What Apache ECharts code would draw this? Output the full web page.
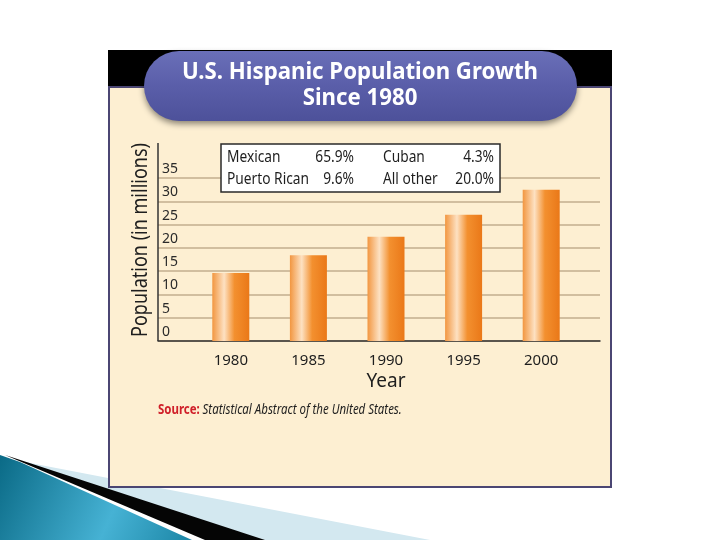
<!DOCTYPE html>
<html>
<head>
<meta charset="utf-8">
<script src="https://cdn.jsdelivr.net/npm/echarts@6/dist/echarts.min.js"></script>
<style>
  html, body { margin: 0; padding: 0; background: #ffffff; }
  #chart { width: 720px; height: 540px; }
</style>
</head>
<body>
<div id="chart"></div>
<script>
// values
const years = ["1980", "1985", "1990", "1995", "2000"];
const population = [14.6, 18.4, 22.4, 27.1, 32.5];
const groups = ["Mexican", "Puerto Rican", "Cuban", "All other"];
const shares = ["65.9%", "9.6%", "4.3%", "20.0%"];

const FONT = "'Noto Sans', 'Open Sans', sans-serif";
const CREAM = "#fdefd2";
const GRID_LINE = "#c2ae8e";
const INK = "#1e1e1e";

const chart = echarts.init(document.getElementById("chart"), null, { renderer: "canvas" });

// the original uses a condensed face; squeeze text horizontally to fit the widths seen
const measureCtx = document.createElement("canvas").getContext("2d");
function textWidth(text, font) {
  measureCtx.font = font;
  return measureCtx.measureText(text).width;
}

const TITLE_FONT = `bold 24px ${FONT}`;
const titleScale = 356 / textWidth("U.S. Hispanic Population Growth", TITLE_FONT);
const LEGEND_FONT = `17px ${FONT}`;
const legendScale = 82 / textWidth("Puerto Rican", LEGEND_FONT);
const YNAME_FONT = `21px ${FONT}`;
const ynameScale = 194 / textWidth("Population (in millions)", YNAME_FONT);
const SRC_A = `bold 14px ${FONT}`;
const SRC_B = `italic 14px ${FONT}`;
const srcScale = 244 / (textWidth("Source: ", SRC_A) + textWidth("Statistical Abstract of the United States.", SRC_B));

const barColor = new echarts.graphic.LinearGradient(0, 0, 1, 0, [
  { offset: 0, color: "#f29640" },
  { offset: 0.32, color: "#fde1c2" },
  { offset: 0.6, color: "#f3902f" },
  { offset: 1, color: "#ea7818" },
]);

function legendTexts() {
  const out = [];
  groups.forEach((name, i) => {
    const col = Math.floor(i / 2);
    const row = i % 2;
    const y = 157 + row * 22;
    out.push({
      type: "text", z: 20, x: 227 + col * 156, y, scaleX: legendScale,
      style: { x: 0, y: 0, text: name, font: LEGEND_FONT, fill: INK, verticalAlign: "middle" },
    });
    out.push({
      type: "text", z: 20, x: 354 + col * 140, y, scaleX: legendScale,
      style: { x: 0, y: 0, text: shares[i], font: LEGEND_FONT, fill: INK, align: "right", verticalAlign: "middle" },
    });
  });
  return out;
}

const graphics = [
  // slide decoration bottom-left
  { type: "polygon", z: 0, shape: { points: [[25, 462], [430, 540], [230, 540]] }, style: { fill: "#d3e8f0" } },
  { type: "polygon", z: 0, shape: { points: [[5, 455], [265, 540], [205, 540]] }, style: { fill: "#050505" } },
  {
    type: "polygon", z: 0, shape: { points: [[0, 455], [20, 462], [192, 540], [0, 540]] },
    style: { fill: new echarts.graphic.LinearGradient(0, 0, 1, 1, [
      { offset: 0, color: "#0a6a86" }, { offset: 0.6, color: "#46b2d4" }, { offset: 1, color: "#1c86a6" },
    ]) },
  },
  // panel
  { type: "rect", z: 1, shape: { x: 108, y: 50, width: 504, height: 40 }, style: { fill: "#000000" } },
  { type: "rect", z: 1, shape: { x: 109, y: 87, width: 502, height: 400 }, style: { fill: CREAM, stroke: "#4b4673", lineWidth: 2 } },
  // title pill
  {
    type: "rect", z: 5, shape: { x: 144, y: 51, width: 433, height: 70, r: 35 },
    style: {
      fill: new echarts.graphic.LinearGradient(0, 0, 0, 1, [
        { offset: 0, color: "#6a6fb8" }, { offset: 0.5, color: "#5a5ea9" }, { offset: 1, color: "#4d519a" },
      ]),
      shadowBlur: 6, shadowOffsetY: 3, shadowColor: "rgba(0,0,0,0.45)",
    },
  },
  {
    type: "text", z: 6, x: 360, y: 72, scaleX: titleScale,
    style: { x: 0, y: 0, text: "U.S. Hispanic Population Growth", font: TITLE_FONT, fill: "#ffffff", align: "center", verticalAlign: "middle" },
  },
  {
    type: "text", z: 6, x: 360, y: 98, scaleX: titleScale,
    style: { x: 0, y: 0, text: "Since 1980", font: TITLE_FONT, fill: "#ffffff", align: "center", verticalAlign: "middle" },
  },
  // y axis line extension above the top grid line
  { type: "line", z: 10, shape: { x1: 158, y1: 143, x2: 158, y2: 341 }, style: { stroke: "#333333", lineWidth: 1.5 } },
  // axis title
  {
    type: "text", z: 10, x: 141, y: 240, rotation: Math.PI / 2, scaleX: ynameScale,
    style: { x: 0, y: 0, text: "Population (in millions)", font: YNAME_FONT, fill: INK, align: "center", verticalAlign: "middle" },
  },
  // legend box
  { type: "rect", z: 19, shape: { x: 221, y: 144, width: 279, height: 48 }, style: { fill: "#ffffff", stroke: "#2a2a2a", lineWidth: 1.5 } },
  ...legendTexts(),
  // source
  {
    type: "text", z: 10, x: 158, y: 410, scaleX: srcScale,
    style: {
      x: 0, y: 0, verticalAlign: "middle",
      text: "{a|Source:} {b|Statistical Abstract of the United States.}",
      rich: {
        a: { font: SRC_A, fill: "#d0202a" },
        b: { font: SRC_B, fill: INK },
      },
    },
  },
];

chart.setOption({
  animation: false,
  backgroundColor: "#ffffff",
  graphic: graphics,
  grid: [
    { left: 158, right: 120, top: 178, bottom: 199 },
    { left: 192, right: 140, top: 178, bottom: 199 },
  ],
  xAxis: [
    {
      gridIndex: 0, type: "value", min: 0, max: 1, z: 5,
      axisLine: { show: true, lineStyle: { color: "#333333", width: 1.5 } },
      axisTick: { show: false }, axisLabel: { show: false }, splitLine: { show: false },
    },
    {
      gridIndex: 1, type: "category", data: years, z: 5,
      axisLine: { show: false }, axisTick: { show: false },
      axisLabel: { color: INK, fontFamily: FONT, fontSize: 15, margin: 12 },
      name: "Year", nameLocation: "middle", nameGap: 31,
      nameTextStyle: { color: INK, fontFamily: FONT, fontSize: 19 },
    },
  ],
  yAxis: [
    {
      gridIndex: 0, type: "value", min: 0, max: 35, interval: 5, z: 5,
      axisLine: { show: false }, axisTick: { show: false },
      axisLabel: { inside: true, margin: 4, verticalAlign: "bottom", padding: [0, 0, 2, 0], color: "#2a2a2a", fontFamily: FONT, fontSize: 14 },
      splitLine: { show: true, lineStyle: { color: GRID_LINE, width: 1.5 } },
    },
    { gridIndex: 1, type: "value", min: 0, max: 35, show: false },
  ],
  series: [
    {
      type: "bar", xAxisIndex: 1, yAxisIndex: 1, data: population,
      barWidth: 37, z: 8,
      itemStyle: { color: barColor },
    },
  ],
});
</script>
</body>
</html>
